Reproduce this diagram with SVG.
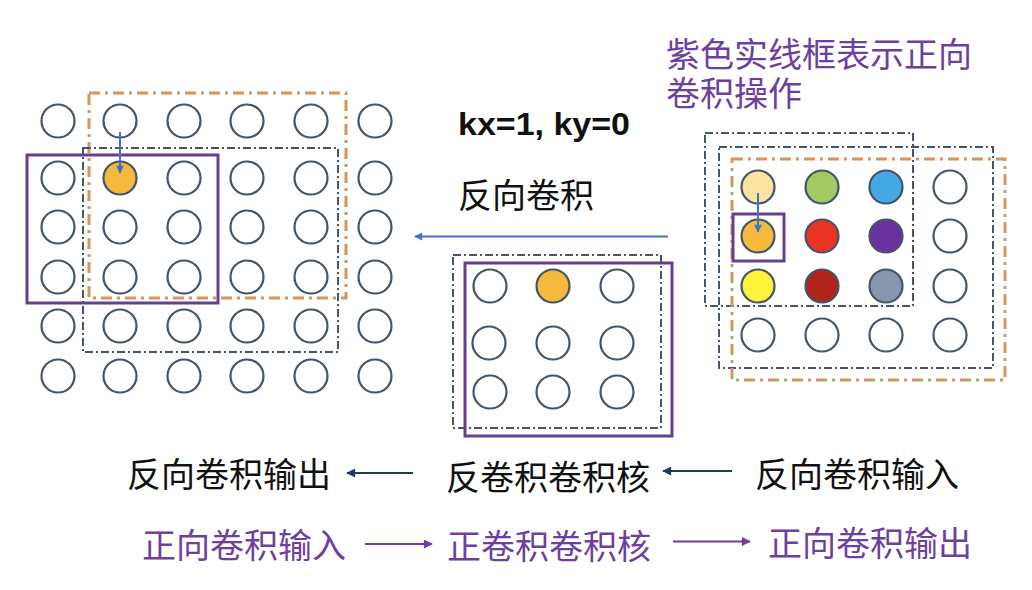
<svg xmlns="http://www.w3.org/2000/svg" width="1032" height="590" viewBox="0 0 1032 590">
<defs>
<style>
.c{fill:#fff;stroke:#44546A;stroke-width:2.2}
.f{stroke:#44546A;stroke-width:2.2}
.org{fill:none;stroke:#D6955A;stroke-width:3;stroke-dasharray:11 5 3 5}
.dd{fill:none;stroke:#44546A;stroke-width:2;stroke-dasharray:8 3 2 3}
.pr{fill:none;stroke:#663F8F;stroke-width:3}
.cj{font-family:"Noto Sans CJK SC","Noto Sans",sans-serif;font-size:34px;dominant-baseline:central}
.blk{fill:#111}
.pur{fill:#6E3F9E}
</style>
<marker id="ab" viewBox="0 0 10 10" refX="9" refY="5" markerWidth="5" markerHeight="4" orient="auto" markerUnits="strokeWidth"><path d="M0,0L10,5L0,10z" fill="#4472C4"/></marker>
<marker id="an" viewBox="0 0 10 10" refX="9" refY="5" markerWidth="6" markerHeight="4.5" orient="auto" markerUnits="strokeWidth"><path d="M0,0L10,5L0,10z" fill="#1F3864"/></marker>
<marker id="ap" viewBox="0 0 10 10" refX="9" refY="5" markerWidth="6" markerHeight="4.5" orient="auto" markerUnits="strokeWidth"><path d="M0,0L10,5L0,10z" fill="#6E3F9E"/></marker>
</defs>
<rect width="1032" height="590" fill="#fff"/>

<g id="left-grid">
<g id="left-circles">
<circle class="c" cx="58" cy="121" r="16.5"/><circle class="c" cx="120" cy="121" r="16.5"/><circle class="c" cx="184" cy="121" r="16.5"/><circle class="c" cx="247" cy="121" r="16.5"/><circle class="c" cx="311" cy="121" r="16.5"/><circle class="c" cx="375" cy="121" r="16.5"/>
<circle class="c" cx="58" cy="178" r="16.5"/><circle class="f" cx="120" cy="178" r="16.5" fill="#F5B93E"/><circle class="c" cx="184" cy="178" r="16.5"/><circle class="c" cx="247" cy="178" r="16.5"/><circle class="c" cx="311" cy="178" r="16.5"/><circle class="c" cx="375" cy="178" r="16.5"/>
<circle class="c" cx="58" cy="227" r="16.5"/><circle class="c" cx="120" cy="227" r="16.5"/><circle class="c" cx="184" cy="227" r="16.5"/><circle class="c" cx="247" cy="227" r="16.5"/><circle class="c" cx="311" cy="227" r="16.5"/><circle class="c" cx="375" cy="227" r="16.5"/>
<circle class="c" cx="58" cy="277" r="16.5"/><circle class="c" cx="120" cy="277" r="16.5"/><circle class="c" cx="184" cy="277" r="16.5"/><circle class="c" cx="247" cy="277" r="16.5"/><circle class="c" cx="311" cy="277" r="16.5"/><circle class="c" cx="375" cy="277" r="16.5"/>
<circle class="c" cx="58" cy="326" r="16.5"/><circle class="c" cx="120" cy="326" r="16.5"/><circle class="c" cx="184" cy="326" r="16.5"/><circle class="c" cx="247" cy="326" r="16.5"/><circle class="c" cx="311" cy="326" r="16.5"/><circle class="c" cx="375" cy="326" r="16.5"/>
<circle class="c" cx="58" cy="376" r="16.5"/><circle class="c" cx="120" cy="376" r="16.5"/><circle class="c" cx="184" cy="376" r="16.5"/><circle class="c" cx="247" cy="376" r="16.5"/><circle class="c" cx="311" cy="376" r="16.5"/><circle class="c" cx="375" cy="376" r="16.5"/>
</g>
<rect class="org" x="89" y="93" width="257" height="205"/>
<rect class="dd" x="83" y="148" width="255" height="204"/>
<rect class="pr" x="27" y="155" width="191" height="148"/>
</g>

<g id="kernel">
<rect class="dd" x="453" y="255" width="208" height="173"/>
<rect class="pr" x="465" y="263" width="207" height="173"/>
<circle class="c" cx="490" cy="286" r="16.5"/><circle class="f" cx="553" cy="286" r="16.5" fill="#F5B93E"/><circle class="c" cx="617" cy="286" r="16.5"/>
<circle class="c" cx="489" cy="343" r="16.5"/><circle class="c" cx="553" cy="343" r="16.5"/><circle class="c" cx="617" cy="343" r="16.5"/>
<circle class="c" cx="490" cy="392" r="16.5"/><circle class="c" cx="553" cy="392" r="16.5"/><circle class="c" cx="617" cy="392" r="16.5"/>
</g>

<g id="right-grid">
<rect class="dd" x="705" y="133" width="208" height="173"/>
<rect class="dd" x="719" y="147" width="274" height="221"/>
<rect class="org" x="732" y="159" width="273" height="221"/>
<circle class="f" cx="758" cy="187" r="16.5" fill="#FBE3A0"/><circle class="f" cx="822" cy="187" r="16.5" fill="#A2CA62"/><circle class="f" cx="886" cy="187" r="16.5" fill="#45A8E6"/><circle class="c" cx="950" cy="187" r="16.5"/>
<circle class="f" cx="758" cy="236" r="16.5" fill="#F5B93E"/><circle class="f" cx="822" cy="236" r="16.5" fill="#E93425"/><circle class="f" cx="886" cy="236" r="16.5" fill="#6A329F"/><circle class="c" cx="950" cy="236" r="16.5"/>
<circle class="f" cx="758" cy="286" r="16.5" fill="#FFF33A"/><circle class="f" cx="822" cy="286" r="16.5" fill="#B02419"/><circle class="f" cx="886" cy="286" r="16.5" fill="#8596AE"/><circle class="c" cx="950" cy="286" r="16.5"/>
<circle class="c" cx="758" cy="335" r="16.5"/><circle class="c" cx="822" cy="335" r="16.5"/><circle class="c" cx="886" cy="335" r="16.5"/><circle class="c" cx="950" cy="335" r="16.5"/>
<rect class="pr" x="733" y="214" width="51" height="47"/>
</g>

<g id="labels">
<text x="458" y="135" font-family="Liberation Sans,Arial,sans-serif" font-weight="bold" font-size="32" fill="#111" textLength="172" lengthAdjust="spacingAndGlyphs">kx=1, ky=0</text>
<text class="cj blk" x="458" y="193.5">反向卷积</text>
<text class="cj pur" x="666" y="52">紫色实线框表示正向</text>
<text class="cj pur" x="666" y="91">卷积操作</text>
<text class="cj blk" x="127" y="472.5">反向卷积输出</text>
<text class="cj blk" x="446" y="475">反卷积卷积核</text>
<text class="cj blk" x="755" y="472.5">反向卷积输入</text>
<text class="cj pur" x="142" y="543.5">正向卷积输入</text>
<text class="cj pur" x="447" y="544">正卷积卷积核</text>
<text class="cj pur" x="768" y="541">正向卷积输出</text>
</g>

<g id="connectors">
<line x1="120" y1="132" x2="120" y2="173" stroke="#4472C4" stroke-width="2" marker-end="url(#ab)"/>
<line x1="758" y1="193" x2="758" y2="232" stroke="#4472C4" stroke-width="2" marker-end="url(#ab)"/>
<line x1="668" y1="236.5" x2="415" y2="236.5" stroke="#4472C4" stroke-width="2" marker-end="url(#ab)"/>
<line x1="413" y1="473" x2="347" y2="473" stroke="#1F3864" stroke-width="2" marker-end="url(#an)"/>
<line x1="732" y1="471" x2="663" y2="471" stroke="#1F3864" stroke-width="2" marker-end="url(#an)"/>
<line x1="365" y1="544" x2="432" y2="544" stroke="#6E3F9E" stroke-width="2" marker-end="url(#ap)"/>
<line x1="673" y1="541.5" x2="750" y2="541.5" stroke="#6E3F9E" stroke-width="2" marker-end="url(#ap)"/>
</g>
</svg>
